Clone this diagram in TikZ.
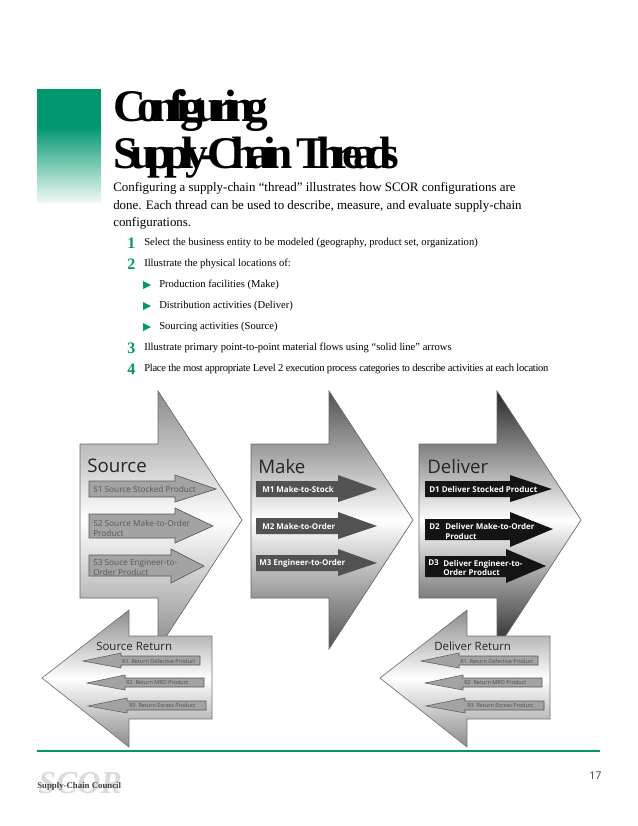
\documentclass[tikz,border=0pt]{standalone}
\usepackage{fontspec}
\setmainfont{Liberation Serif}
\setsansfont{Open Sans}
\newfontfamily\titlefont[LetterSpace=-18,Ligatures=NoCommon]{Liberation Serif Bold}
\newfontfamily\titletight[LetterSpace=-21,Ligatures=NoCommon]{Liberation Serif Bold}
\newfontfamily\tightfont[LetterSpace=-2.8]{Liberation Serif}
\newfontfamily\logofont{Liberation Serif Bold}
\definecolor{scorgreen}{RGB}{0,150,110}
\newcommand{\blockarrow}[8]{(#1,#5) -- (#2,#5) -- (#2,#4) -- (#3,#6) -- (#2,#8) -- (#2,#7) -- (#1,#7) -- cycle}
\begin{document}
\begin{tikzpicture}[x=0.75pt, y=-0.75pt,
   every node/.style={inner sep=0pt, anchor=west},
   pagetitle/.style={font=\titlefont\fontsize{34}{34.5}\selectfont, align=left},
   intro/.style={font=\fontsize{9.7}{13.2}\selectfont, align=left},
   stepnum/.style={font=\bfseries\fontsize{12}{12}\selectfont, text=scorgreen},
   steptext/.style={font=\fontsize{7.95}{10}\selectfont},
   blockhead/.style={font=\sffamily\fontsize{14}{14}\selectfont, text=black!85},
   returnhead/.style={font=\sffamily\fontsize{8.6}{9}\selectfont, text=black!85},
   darktext/.style={font=\sffamily\fontsize{6.2}{7.5}\selectfont, text=black!65, align=left},
   lighttext/.style={font=\sffamily\bfseries\fontsize{6}{7.3}\selectfont, text=white, align=left},
   tinytext/.style={font=\sffamily\fontsize{4.1}{5}\selectfont, text=black!70}]
\useasboundingbox (0,0) rectangle (638,826);

\fill[scorgreen] (37,89) rectangle (101,126);
\shade[top color=scorgreen, bottom color=scorgreen!6] (37,126) rectangle (101,202);
\node[pagetitle] (title) at (113,134) {Configuring\\[1pt]Supply-Chain {\titletight Threads}};
\node[intro] (intro) at (113,206) {Configuring a supply-chain “thread” illustrates how SCOR configurations are\\
  done. Each thread can be used to describe, measure, and evaluate supply-chain\\
  configurations.};

\foreach \num/\ypos/\txt in {1/243/{Select the business entity to be modeled (geography, product set, organization)},
    2/264/{Illustrate the physical locations of:},
    3/348/{Illustrate primary point-to-point material flows using “solid line” arrows}} {
  \node[stepnum] (num\num) at (127,\ypos) {\num};
  \node[steptext] (step\num) at (144,\ypos) {\txt};
}
\node[stepnum] (num4) at (127,369) {4};
\node[steptext, font=\tightfont\fontsize{7.95}{10}\selectfont] (step4) at (144,369) {Place the most appropriate Level 2 execution process categories to describe activities at each location};
\foreach \ypos/\txt in {285/Production facilities (Make), 306/Distribution activities (Deliver), 327/Sourcing activities (Source)} {
  \fill[scorgreen] (143,\ypos-4) -- (151,\ypos) -- (143,\ypos+4) -- cycle;
  \node[steptext] at (159,\ypos) {\txt};
}

\shadedraw[draw=black!60, line width=.5pt, top color=black!45, bottom color=black!45, middle color=white] \blockarrow{80}{158}{242}{391}{444}{520}{598}{649};
\shadedraw[draw=black!60, line width=.5pt, top color=black!68, bottom color=black!68, middle color=white] \blockarrow{251}{329}{413}{391}{444}{520}{598}{649};
\shadedraw[draw=black!60, line width=.5pt, top color=black!85, bottom color=black!85, middle color=white] \blockarrow{419}{497}{581}{391}{444}{520}{598}{649};
\foreach \dx in {0,338}
  \shadedraw[xshift=\dx*0.75pt, draw=black!55, line width=.5pt, top color=black!45, bottom color=black!45, middle color=white] \blockarrow{212}{129}{42}{610}{636}{678}{719}{747};

\foreach \xa/\xb/\xc/\ya/\yb/\yc/\yd/\ye in {89/175/216/475/481/489/497/502, 89/175/213/508/514/526/538/543, 89/171/204/549/555/566/576/583}
  \fill[draw=black!65, line width=.5pt, fill=black!36] \blockarrow{\xa}{\xb}{\xc}{\ya}{\yb}{\yc}{\yd}{\ye};
\foreach \ya/\yb/\yc/\yd/\ye in {475/481/489/497/502, 512/518/526/534/539, 549/555/563/571/576}
  \fill[fill=black!68] \blockarrow{256}{338}{377}{\ya}{\yb}{\yc}{\yd}{\ye};
\foreach \xb/\xc/\ya/\yb/\yc/\yd/\ye in {510/552/475/481/489/497/502, 510/553/512/519/529/540/547, 506/546/549/556/566/577/583}
  \fill[fill=black!92] \blockarrow{425}{\xb}{\xc}{\ya}{\yb}{\yc}{\yd}{\ye};
\foreach \dx in {0,338}
  \foreach \xa/\xb/\xc/\ya/\yb/\yc/\yd/\ye in {200/121/83/653/656/661/665/668, 204/125/87/675/678/683/687/690, 206/127/88/698/701/706/710/713}
    \fill[xshift=\dx*0.75pt, draw=black!65, line width=.4pt, fill=black!36] \blockarrow{\xa}{\xb}{\xc}{\ya}{\yb}{\yc}{\yd}{\ye};

\node[blockhead] (source) at (87,466) {Source};
\node[blockhead] (make) at (258,466) {Make};
\node[blockhead] (deliver) at (427,466) {Deliver};
\node[darktext] (s1) at (93,489) {S1 Source Stocked Product};
\node[darktext] (s2) at (93,528) {S2 Source Make-to-Order\\Product};
\node[darktext] (s3) at (93,567) {S3 Souce Engineer-to-\\Order Product};
\node[lighttext] (m1) at (262,489) {M1 Make-to-Stock};
\node[lighttext] (m2) at (262,526) {M2 Make-to-Order};
\node[lighttext] (m3) at (259,563) {M3 Engineer-to-Order};
\node[lighttext] (d1) at (429,489) {D1 Deliver Stocked Product};
\node[lighttext] (d2) at (429,527) {D2};
\node[lighttext] (d2t) at (445,531.5) {Deliver Make-to-Order\\Product};
\node[lighttext] (d3) at (428,563) {D3};
\node[lighttext] (d3t) at (443,568) {Deliver Engineer-to-\\Order Product};

\node[returnhead] (sreturn) at (96,646) {Source Return};
\node[returnhead] (dreturn) at (434,646) {Deliver Return};
\foreach \nam/\dx in {s/0,d/338} {
  \node[tinytext] (\nam r1) at (122+\dx,661) {R1\ \ Return Defective Product};
  \node[tinytext] (\nam r2) at (126+\dx,682.5) {R2\ \ Return MRO Product};
  \node[tinytext] (\nam r3) at (129+\dx,705) {R3\ \ Return Excess Product};
}

\draw[scorgreen, line width=.8pt] (37,751) -- (600,751);
\node[font=\sffamily\fontsize{8}{8}\selectfont, text=black!75] (page) at (589,776) {17};
\node[font=\logofont\itshape\fontsize{24}{24}\selectfont, text=black!14] (logo) at (38,783) {SCOR};
\node[font=\logofont\fontsize{6.6}{8}\selectfont, text=black!75] (council) at (37,786) {Supply-Chain Council};
\end{tikzpicture}
\end{document}
